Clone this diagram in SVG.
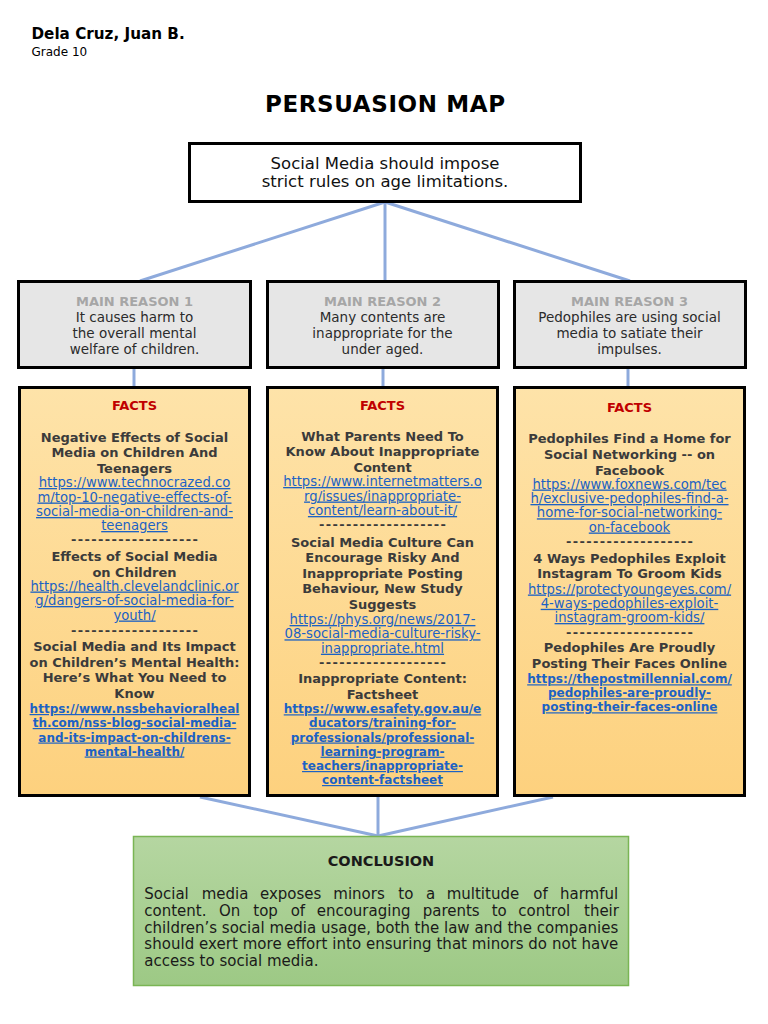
<svg xmlns="http://www.w3.org/2000/svg" width="768" height="1024" viewBox="0 0 768 1024">
<defs>
<linearGradient id="gFact" x1="0" y1="0" x2="0" y2="1">
<stop offset="0" stop-color="#fee3a9"/>
<stop offset="1" stop-color="#fdd17e"/>
</linearGradient>
<linearGradient id="gConc" x1="0" y1="0" x2="0" y2="1">
<stop offset="0" stop-color="#b5d6a1"/>
<stop offset="1" stop-color="#9dc985"/>
</linearGradient>
<style>
text{font-family:"DejaVu Sans","Liberation Sans",sans-serif}
.ctr{text-anchor:middle}
.conn{stroke:#8eaadc;stroke-width:3;fill:none}
.box{stroke:#000;stroke-width:3}
.reason{fill:#e6e6e6}
.fact{fill:url(#gFact)}
.rt{font-size:13px;font-weight:bold;fill:#a6a6a6;text-anchor:middle}
.rb{font-size:13.5px;fill:#2b2b2b;text-anchor:middle}
.facts{font-size:13px;font-weight:bold;fill:#c00000;text-anchor:middle}
.hd{font-size:13px;font-weight:bold;fill:#3b3b3b;text-anchor:middle}
.lk{font-size:13.2px;fill:#1c62c4;text-anchor:middle;text-decoration:underline}
.lkb{font-size:12px;font-weight:bold;fill:#1c62c4;text-anchor:middle;text-decoration:underline}
.ds{font-size:13px;font-weight:bold;fill:#3b3b3b;text-anchor:middle}
.cb{font-size:15px;fill:#1a1a1a}
</style>
</defs>
<rect width="768" height="1024" fill="#fff"/>

<g id="header">
<text x="31.5" y="39" font-size="15.2" font-weight="bold" fill="#000">Dela Cruz, Juan B.</text>
<text x="31.5" y="56" font-size="12" fill="#000">Grade 10</text>
<text x="385" y="112" font-size="23" font-weight="bold" fill="#000" text-anchor="middle" textLength="240" lengthAdjust="spacing">PERSUASION MAP</text>
</g>

<g id="connectors">
<line class="conn" x1="385" y1="202" x2="140" y2="281"/>
<line class="conn" x1="385" y1="202" x2="385" y2="281"/>
<line class="conn" x1="385" y1="202" x2="630" y2="281"/>
<line class="conn" x1="134" y1="368" x2="134" y2="387"/>
<line class="conn" x1="383" y1="368" x2="383" y2="387"/>
<line class="conn" x1="628" y1="368" x2="628" y2="387"/>
<line class="conn" x1="200" y1="797" x2="378" y2="836"/>
<line class="conn" x1="378" y1="797" x2="378" y2="836"/>
<line class="conn" x1="553" y1="797" x2="378" y2="836"/>
</g>

<g id="claim">
<rect x="189.5" y="143.5" width="391" height="58" fill="#fff" class="box"/>
<text class="ctr" x="385" y="168.5" font-size="16.5" fill="#111">Social Media should impose</text>
<text class="ctr" x="385" y="187" font-size="16.5" fill="#111">strict rules on age limitations.</text>
</g>

<g id="reason1">
<rect class="box reason" x="18.5" y="281.5" width="232" height="86"/>
<text class="rt" x="134.5" y="305.5">MAIN REASON 1</text>
<text class="rb" x="134.5" y="322.3">It causes harm to</text>
<text class="rb" x="134.5" y="338.3">the overall mental</text>
<text class="rb" x="134.5" y="353.5">welfare of children.</text>
</g>
<g id="reason2">
<rect class="box reason" x="267.5" y="281.5" width="231" height="86"/>
<text class="rt" x="382.5" y="305.5">MAIN REASON 2</text>
<text class="rb" x="382.5" y="322.3">Many contents are</text>
<text class="rb" x="382.5" y="338.3">inappropriate for the</text>
<text class="rb" x="382.5" y="353.5">under aged.</text>
</g>
<g id="reason3">
<rect class="box reason" x="514.5" y="281.5" width="231" height="86"/>
<text class="rt" x="629.5" y="305.5">MAIN REASON 3</text>
<text class="rb" x="629.5" y="322.3">Pedophiles are using social</text>
<text class="rb" x="629.5" y="338.3">media to satiate their</text>
<text class="rb" x="629.5" y="353.5">impulses.</text>
</g>

<g id="facts1">
<rect class="box fact" x="19.5" y="387.5" width="230" height="408"/>
<text class="facts" x="134.5" y="410">FACTS</text>
<text class="hd" x="134.5" y="441.5">Negative Effects of Social</text>
<text class="hd" x="134.5" y="457">Media on Children And</text>
<text class="hd" x="134.5" y="472.5">Teenagers</text>
<text class="lk" x="134.5" y="487">https://www.technocrazed.co</text>
<text class="lk" x="134.5" y="501.5">m/top-10-negative-effects-of-</text>
<text class="lk" x="134.5" y="516">social-media-on-children-and-</text>
<text class="lk" x="134.5" y="530">teenagers</text>
<text class="ds" x="134.5" y="544" textLength="127" lengthAdjust="spacing">-------------------</text>
<text class="hd" x="134.5" y="561">Effects of Social Media</text>
<text class="hd" x="134.5" y="576.5">on Children</text>
<text class="lk" x="134.5" y="590.5">https://health.clevelandclinic.or</text>
<text class="lk" x="134.5" y="605">g/dangers-of-social-media-for-</text>
<text class="lk" x="134.5" y="619.5">youth/</text>
<text class="ds" x="134.5" y="634.5" textLength="127" lengthAdjust="spacing">-------------------</text>
<text class="hd" x="134.5" y="651">Social Media and Its Impact</text>
<text class="hd" x="134.5" y="666.5">on Children’s Mental Health:</text>
<text class="hd" x="134.5" y="682">Here’s What You Need to</text>
<text class="hd" x="134.5" y="698">Know</text>
<text class="lkb" x="134.5" y="713">https://www.nssbehavioralheal</text>
<text class="lkb" x="134.5" y="727">th.com/nss-blog-social-media-</text>
<text class="lkb" x="134.5" y="741.5">and-its-impact-on-childrens-</text>
<text class="lkb" x="134.5" y="755.5">mental-health/</text>
</g>

<g id="facts2">
<rect class="box fact" x="267.5" y="387.5" width="230" height="408"/>
<text class="facts" x="382.5" y="409.5">FACTS</text>
<text class="hd" x="382.5" y="440.7">What Parents Need To</text>
<text class="hd" x="382.5" y="456">Know About Inappropriate</text>
<text class="hd" x="382.5" y="471.7">Content</text>
<text class="lk" x="382.5" y="486">https://www.internetmatters.o</text>
<text class="lk" x="382.5" y="500.5">rg/issues/inappropriate-</text>
<text class="lk" x="382.5" y="515">content/learn-about-it/</text>
<text class="ds" x="382.5" y="529" textLength="127" lengthAdjust="spacing">-------------------</text>
<text class="hd" x="382.5" y="546.7">Social Media Culture Can</text>
<text class="hd" x="382.5" y="562">Encourage Risky And</text>
<text class="hd" x="382.5" y="577.7">Inappropriate Posting</text>
<text class="hd" x="382.5" y="593.3">Behaviour, New Study</text>
<text class="hd" x="382.5" y="608.5">Suggests</text>
<text class="lk" x="382.5" y="624">https://phys.org/news/2017-</text>
<text class="lk" x="382.5" y="638.3">08-social-media-culture-risky-</text>
<text class="lk" x="382.5" y="652.7">inappropriate.html</text>
<text class="ds" x="382.5" y="667" textLength="127" lengthAdjust="spacing">-------------------</text>
<text class="hd" x="382.5" y="683.3">Inappropriate Content:</text>
<text class="hd" x="382.5" y="698.5">Factsheet</text>
<text class="lkb" x="382.5" y="713.3">https://www.esafety.gov.au/e</text>
<text class="lkb" x="382.5" y="727.3">ducators/training-for-</text>
<text class="lkb" x="382.5" y="741.5">professionals/professional-</text>
<text class="lkb" x="382.5" y="755.7">learning-program-</text>
<text class="lkb" x="382.5" y="770">teachers/inappropriate-</text>
<text class="lkb" x="382.5" y="784">content-factsheet</text>
</g>

<g id="facts3">
<rect class="box fact" x="514.5" y="387.5" width="230" height="408"/>
<text class="facts" x="629.5" y="411.7">FACTS</text>
<text class="hd" x="629.5" y="443.3">Pedophiles Find a Home for</text>
<text class="hd" x="629.5" y="459">Social Networking -- on</text>
<text class="hd" x="629.5" y="474.5">Facebook</text>
<text class="lk" x="629.5" y="488.5">https://www.foxnews.com/tec</text>
<text class="lk" x="629.5" y="503">h/exclusive-pedophiles-find-a-</text>
<text class="lk" x="629.5" y="517.3">home-for-social-networking-</text>
<text class="lk" x="629.5" y="531.5">on-facebook</text>
<text class="ds" x="629.5" y="546" textLength="127" lengthAdjust="spacing">-------------------</text>
<text class="hd" x="629.5" y="562.7">4 Ways Pedophiles Exploit</text>
<text class="hd" x="629.5" y="578.3">Instagram To Groom Kids</text>
<text class="lk" x="629.5" y="593.5">https://protectyoungeyes.com/</text>
<text class="lk" x="629.5" y="607.8">4-ways-pedophiles-exploit-</text>
<text class="lk" x="629.5" y="622">instagram-groom-kids/</text>
<text class="ds" x="629.5" y="636.5" textLength="127" lengthAdjust="spacing">-------------------</text>
<text class="hd" x="629.5" y="652.3">Pedophiles Are Proudly</text>
<text class="hd" x="629.5" y="668.3">Posting Their Faces Online</text>
<text class="lkb" x="629.5" y="683.3">https://thepostmillennial.com/</text>
<text class="lkb" x="629.5" y="697.3">pedophiles-are-proudly-</text>
<text class="lkb" x="629.5" y="711.3">posting-their-faces-online</text>
</g>

<g id="conclusion">
<rect x="133.5" y="836.5" width="495" height="149" fill="url(#gConc)" stroke="#7ab554" stroke-width="1.5"/>
<text x="381" y="866" font-size="14.5" font-weight="bold" fill="#1a1a1a" text-anchor="middle">CONCLUSION</text>
<text class="cb" y="899.3"><tspan x="144.3">Social</tspan><tspan x="201.7">media</tspan><tspan x="260">exposes</tspan><tspan x="333.3">minors</tspan><tspan x="398.3">to</tspan><tspan x="426">a</tspan><tspan x="446.7">multitude</tspan><tspan x="533.3">of</tspan><tspan x="560">harmful</tspan></text>
<text class="cb" y="916"><tspan x="144.3">content.</tspan><tspan x="219">On</tspan><tspan x="253.3">top</tspan><tspan x="290.7">of</tspan><tspan x="316.7">encouraging</tspan><tspan x="422.7">parents</tspan><tspan x="491.7">to</tspan><tspan x="518.3">control</tspan><tspan x="584">their</tspan></text>
<text class="cb" x="144.3" y="932.7" textLength="474" lengthAdjust="spacing">children’s social media usage, both the law and the companies</text>
<text class="cb" x="144.3" y="949.3" textLength="474" lengthAdjust="spacing">should exert more effort into ensuring that minors do not have</text>
<text class="cb" x="144.3" y="966">access to social media.</text>
</g>
</svg>
